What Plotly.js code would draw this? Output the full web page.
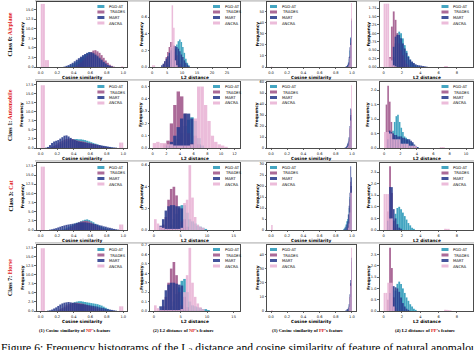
<!DOCTYPE html>
<html><head><meta charset="utf-8">
<script src="https://cdn.plot.ly/plotly-3.0.1.min.js"></script>
<style>html,body{margin:0;padding:0;background:#fff}#chart{width:474px;height:350px}</style>
</head><body><div id="chart"></div>
<script>
// ---------- labels ----------
const seriesNames = ["PGD-AT", "TRADES", "MART", "ANCRA"];
const seriesColors = ["#2b9ab9", "#a0568a", "#2a3c8e", "#e9b3d5"];
const classPrefix = ["Class 0: ", "Class 1: ", "Class 3: ", "Class 7: "];
const classNames = ["Airplane", "Automobile", "Cat", "Horse"];
const xTitles = ["Cosine similarity", "L2 distance", "Cosine similarity", "L2 distance"];
const captionPre = ["(1) Cosine similarity of ", "(2) L2 distance of ", "(3) Cosine similarity of ", "(4) L2 distance of "];
const captionKey = ["NP", "NP", "PP", "PP"];
const figureCaption = "Figure 6: Frequency histograms of the L<sub>2</sub> distance and cosine similarity of feature of natural anomalous";

// ---------- bin grids ----------
const np_cos_bins = [0, 0.025];     // start, width
const np_l2_bins = [0, 0.5];
const pp_cos_bin_left = [0.00, 0.01, 0.89, 0.90, 0.91, 0.92, 0.93, 0.94, 0.95, 0.96, 0.97, 0.98, 0.99];
const pp_cos_width = 0.01;
const pp_l2_bins = [0, 0.2];

// ---------- (1) cosine similarity of NP's feature ----------
const airplane_np_cos_pgd = [0,0,0,0,0,0,0,0,0,0,0,0,0,0.2,0.4,0.7,1.0,1.4,1.8,2.3,2.7,3.1,3.5,3.8,3.9,3.8,3.5,3.1,2.6,2.1,1.5,1.0,0.6,0.3,0.1];
const airplane_np_cos_trades = [0,0,0,0,0,0,0,0,0,0,0,0,0,0,0,0,0.2,0.4,0.8,1.2,1.7,2.3,2.9,3.4,3.9,4.3,4.4,4.1,3.7,3.1,2.4,1.7,1.1,0.6,0.3,0.1];
const airplane_np_cos_mart = [0,0,0,0,0,0,0,0,0,0,0,0.1,0.3,0.5,0.8,1.1,1.5,1.9,2.3,2.7,3.1,3.4,3.7,3.9,3.8,3.6,3.2,2.8,2.3,1.8,1.3,0.9,0.5,0.3,0.1];
const airplane_np_cos_ancra = [16.5,16.5,1.8,1.8,0,0,0,0,0,0,0,0,0,0,0,0,0,0,0,0,0,0,0,0,0,0,0,0,0,0,0,0,0,0,0,0,0,0,0,0.2];

const automobile_np_cos_pgd = [0,0,0,0,0,0,0.2,0.4,0.7,1.0,1.3,1.6,1.9,2.1,2.3,2.4,2.5,2.5,2.4,2.4,2.3,2.2,2.0,1.8,1.6,1.4,1.2,1.0,0.8,0.6,0.5,0.4,0.3,0.2,0.1];
const automobile_np_cos_trades = [0,0,0,0,0,0.3,0.6,0.9,1.3,1.7,2.0,2.3,2.5,2.6,2.6,2.5,2.3,2.1,2.0,1.9,1.8,1.7,1.5,1.4,1.3,1.1,1.0,0.8,0.7,0.5,0.4,0.3,0.2,0.1];
const automobile_np_cos_mart = [0,0,0.1,0.3,0.8,1.4,1.8,2.0,2.2,2.6,3.0,3.4,3.5,3.2,2.8,2.4,2.2,2.0,1.8,1.7,1.6,1.5,1.4,1.3,1.2,1.1,1.0,0.9,0.8,0.7,0.6,0.5,0.4,0.3,0.2,0.15,0.1];
const automobile_np_cos_ancra = [17.4,17.4,0,0,0,0,0,0,0,0,0,0,0,0,0,0,0,0,0,0,0,0,0,0,0,0,0,0,0,0,0,0,0,0,0,0,0,0,1.5,1.5];

const cat_np_cos_pgd = [0,0,0,0,0,0,0,0,0,0,0.1,0.3,0.5,0.8,1.1,1.4,1.7,2.0,2.2,2.4,2.6,2.8,2.9,2.7,2.4,2.1,1.7,1.4,1.1,0.8,0.6,0.4,0.2,0.1];
const cat_np_cos_trades = [0,0,0,0,0,0,0,0,0,0,0,0,0.2,0.4,0.7,1.0,1.4,1.8,2.1,2.3,2.4,2.5,2.5,2.3,2.0,1.7,1.3,1.0,0.7,0.4,0.2,0.1];
const cat_np_cos_mart = [0,0,0,0,0.1,0.2,0.35,0.5,0.7,0.9,1.1,1.25,1.4,1.5,1.6,1.7,1.8,1.9,2.0,2.1,2.1,2.1,2.0,1.9,1.8,1.7,1.6,1.5,1.3,1.2,1.0,0.9,0.7,0.6,0.45,0.3,0.2,0.1];
const cat_np_cos_ancra = [17.3,17.3,0,0,0,0,0,0,0,0,0,0,0,0,0,0,0,0,0,0,0,0,0,0,0,0,0,0,0,0,0,0,0,0,0,0,0,0,1.5,1.5];

const horse_np_cos_pgd = [0,0,0,0,0,0,0,0,0,0.2,0.4,0.7,1.0,1.4,1.8,2.2,2.5,2.6,2.7,2.7,2.6,2.5,2.4,2.3,2.2,2.1,2.0,1.9,1.7,1.5,1.2,0.9,0.6,0.3,0.1];
const horse_np_cos_trades = [0,0,0,0,0,0,0,0,0.2,0.5,0.8,1.2,1.6,1.9,2.1,2.2,2.3,2.3,2.2,2.1,2.0,1.8,1.6,1.4,1.2,1.0,0.8,0.6,0.4,0.3,0.2,0.1];
const horse_np_cos_mart = [0,0,0,0.1,0.2,0.4,0.7,1.0,1.4,1.8,2.1,2.3,2.4,2.5,2.4,2.3,2.2,2.1,2.0,1.9,1.9,1.8,1.7,1.6,1.5,1.4,1.3,1.2,1.0,0.9,0.8,0.6,0.5,0.4,0.3,0.2,0.1];
const horse_np_cos_ancra = [17.4,17.4,0,0,0,0,0,0,0,0,0,0,0,0,0,0,0,0,0,0,0,0,0,0,0,0,0,0,0,0,0,0,0,0,0,0,0,0,1.3,1.3];

// ---------- (2) L2 distance of NP's feature ----------
const airplane_np_l2_pgd = [0,0,0,0,0,0,0,0,0,0,0.03,0.06,0.1,0.14,0.18,0.22,0.27,0.31,0.33,0.3,0.24,0.17,0.1,0.05,0.02];
const airplane_np_l2_trades = [0,0,0,0,0,0,0,0.03,0.07,0.12,0.18,0.24,0.3,0.3,0.26,0.2,0.14,0.08,0.04,0.02];
const airplane_np_l2_mart = [0,0,0,0,0,0,0.02,0.04,0.07,0.1,0.13,0.17,0.2,0.23,0.25,0.25,0.24,0.22,0.19,0.15,0.12,0.08,0.05,0.03,0.01];
const airplane_np_l2_ancra = [0.02,0.02,0,0,0,0,0,0,0,0,0,0,0.24,0.74,0.47,0.08,0.02];

const automobile_np_l2_pgd = [0,0,0,0,0,0,0.03,0.07,0.12,0.18,0.23,0.25,0.22,0.08,0.02];
const automobile_np_l2_trades = [0,0,0,0.03,0.06,0.2,0.35,0.46,0.42,0.28,0.12,0.04,0.01];
const automobile_np_l2_mart = [0,0,0,0,0.02,0.05,0.1,0.17,0.24,0.28,0.28,0.24,0.1,0.03];
const automobile_np_l2_ancra = [0.04,0.05,0.04,0.04,0.03,0.03,0.02,0.02,0.02,0.02,0.02,0.03,0.24,0.5,0.5,0.35,0.22,0.1,0.05,0.03,0.02,0.01];

const cat_np_l2_pgd = [0,0,0,0,0,0,0.05,0.1,0.15,0.2,0.23,0.23,0.16,0.1,0.08,0.06,0.04,0.03,0.02,0.01];
const cat_np_l2_trades = [0,0,0,0.05,0.12,0.28,0.38,0.4,0.32,0.2,0.08,0.02];
const cat_np_l2_mart = [0,0,0.04,0.1,0.18,0.22,0.23,0.23,0.22,0.22,0.2,0.1,0.03];
const cat_np_l2_ancra = [0.1,0.06,0.03,0.02,0.01,0.01,0.01,0.01,0.01,0.01,0.02,0.25,0.28,0.6,0.3,0.12,0.05,0.03,0.02];

const horse_np_l2_pgd = [0,0,0,0,0,0,0.05,0.1,0.18,0.25,0.32,0.34,0.2,0.1,0.06,0.05,0.04,0.03,0.02,0.02,0.01];
const horse_np_l2_trades = [0,0,0,0.05,0.15,0.3,0.45,0.52,0.38,0.2,0.06];
const horse_np_l2_mart = [0,0,0.05,0.12,0.22,0.28,0.3,0.3,0.29,0.28,0.27,0.15,0.04];
const horse_np_l2_ancra = [0.06,0.03,0.01,0.01,0.01,0.01,0.01,0.01,0.01,0.01,0.02,0.2,0.38,0.67,0.3,0.15,0.08,0.04,0.02];

// ---------- (3) cosine similarity of PP's feature ----------
const airplane_pp_cos_pgd = [0,0,0,0,0,0,0.5,1.5,3,7,15,27,38];
const airplane_pp_cos_trades = [0,0,0,0,0,0,0,0.5,1.5,4,10,22,44];
const airplane_pp_cos_mart = [0,0,0,0,0,0.5,1,2,4,9,18,26,42];
const airplane_pp_cos_ancra = [0.5,0.3,0,0,0,0,0,0,0.5,2,8,20,58];

const automobile_pp_cos_pgd = [0,0,0,0,0,0,1,2,5,9,17,28,32];
const automobile_pp_cos_trades = [0,0,0,0,0,0,0,1,3,8,18,30,35];
const automobile_pp_cos_mart = [0,0,0,0,0.5,1,2,4,6,10,20,36,30];
const automobile_pp_cos_ancra = [0.3,0,0,0,0,0,0,1,2,6,18,25,57];

const cat_pp_cos_pgd = [0,0,0.3,0.8,1.5,2.5,4,5,7,10,15,20,15];
const cat_pp_cos_trades = [0,0,0,0,0,0,0,1,3,7,14,22,20];
const cat_pp_cos_mart = [0,0,0,0.3,0.8,1.5,2.5,4,7,11,17,29,24];
const cat_pp_cos_ancra = [2.3,2.3,0,0,0,0,0,0,1,3,8,17,17];

const horse_pp_cos_pgd = [0,0,0,0,0,0,0,1,2,4,10,19,30];
const horse_pp_cos_trades = [0,0,0,0,0,0,0,0,1,3,10,20,35];
const horse_pp_cos_mart = [0,0,0,0,0,0.5,1,1.5,2.5,5,12,22,38];
const horse_pp_cos_ancra = [0.6,0.6,0,0,0,0,0,0,0,3,10,18,45];

// ---------- (4) L2 distance of PP's feature ----------
const airplane_pp_l2_pgd = [0,0,0,0,0,0.3,0.7,1.0,1.05,1.0,0.85,0.65,0.48,0.33,0.22,0.14,0.08,0.05,0.03,0.02];
const airplane_pp_l2_trades = [0,0,0,0.3,1.2,1.65,1.4,1.0,0.7,0.5,0.35,0.2,0.1,0.05];
const airplane_pp_l2_mart = [0,0,0,0,0.2,0.6,0.9,0.95,0.95,0.85,0.7,0.55,0.42,0.3,0.22,0.16,0.12,0.08,0.06,0.05,0.04,0.03,0.02,0.01];
const airplane_pp_l2_ancra = [1.88,1.88,1.88,0.25,0.2,0.05,0.02,0,0,0,0,0,0,0,0,0,0,0,0,0,0,0,0,0,0,0,0,0,0,0,0,0,0,0.03,0.03];

const automobile_pp_l2_pgd = [0,0,0,0,0.3,0.6,0.9,1.1,1.15,0.9,0.7,0.55,0.4,0.35,0.3,0.25,0.2,0.15,0.1,0.06,0.03];
const automobile_pp_l2_trades = [0,1.5,2.15,1.6,0.9,0.5,0.35,0.25,0.2,0.15,0.1,0.08,0.05,0.03];
const automobile_pp_l2_mart = [0,0,0.3,0.6,0.55,0.5,0.45,0.45,0.4,0.4,0.4,0.35,0.35,0.3,0.3,0.3,0.25,0.2,0.12,0.06,0.03];
const automobile_pp_l2_ancra = [0.55,0.55,0.55,0.5,0.5,0.3,0.3,0.3,0.3,0.3,0.15,0.15,0.15,0.15,0.15,0.08,0.08,0.08,0.08,0.08,0,0,0,0,0,0,0,0,0,0,0,0,0,0,0.03,0.03,0.03];

const cat_pp_l2_pgd = [0,0,0,0,0,0.4,0.7,0.95,1.0,0.9,0.75,0.6,0.45,0.3,0.2,0.1,0.05];
const cat_pp_l2_trades = [0,0,0.8,2.75,1.6,0.4,0.1];
const cat_pp_l2_mart = [0,0,0.4,1.85,1.85,0.9,0.5,0.25,0.1,0.05];
const cat_pp_l2_ancra = [1.55,1.55,1.55,0.5,0.5,0,0,0,0,0,0,0,0,0,0,0,0,0,0,0,0,0,0,0,0,0,0,0,0,0,0,0,0,0.05,0.05,0.05];

const horse_pp_l2_pgd = [0,0,0,0,0,0.6,0.9,1.2,1.3,1.2,1.0,0.8,0.6,0.45,0.3,0.2,0.1,0.05];
const horse_pp_l2_trades = [0,0,0.5,2.8,1.9,0.6,0.15];
const horse_pp_l2_mart = [0,0,0,0.8,1.1,1.1,1.05,1.0,0.85,0.6,0.35,0.2,0.1,0.05];
const horse_pp_l2_ancra = [0.8,0.8,1.25,1.25,1.25,0.2,0,0,0,0,0,0,0,0,0,0,0,0,0,0,0,0,0,0,0,0,0,0,0,0,0,0,0,0.05,0.05,0.04,0.03];

// ---------- assemble panels ----------
const panelData = [
  [[airplane_np_cos_pgd, airplane_np_cos_trades, airplane_np_cos_mart, airplane_np_cos_ancra],
   [airplane_np_l2_pgd, airplane_np_l2_trades, airplane_np_l2_mart, airplane_np_l2_ancra],
   [airplane_pp_cos_pgd, airplane_pp_cos_trades, airplane_pp_cos_mart, airplane_pp_cos_ancra],
   [airplane_pp_l2_pgd, airplane_pp_l2_trades, airplane_pp_l2_mart, airplane_pp_l2_ancra]],
  [[automobile_np_cos_pgd, automobile_np_cos_trades, automobile_np_cos_mart, automobile_np_cos_ancra],
   [automobile_np_l2_pgd, automobile_np_l2_trades, automobile_np_l2_mart, automobile_np_l2_ancra],
   [automobile_pp_cos_pgd, automobile_pp_cos_trades, automobile_pp_cos_mart, automobile_pp_cos_ancra],
   [automobile_pp_l2_pgd, automobile_pp_l2_trades, automobile_pp_l2_mart, automobile_pp_l2_ancra]],
  [[cat_np_cos_pgd, cat_np_cos_trades, cat_np_cos_mart, cat_np_cos_ancra],
   [cat_np_l2_pgd, cat_np_l2_trades, cat_np_l2_mart, cat_np_l2_ancra],
   [cat_pp_cos_pgd, cat_pp_cos_trades, cat_pp_cos_mart, cat_pp_cos_ancra],
   [cat_pp_l2_pgd, cat_pp_l2_trades, cat_pp_l2_mart, cat_pp_l2_ancra]],
  [[horse_np_cos_pgd, horse_np_cos_trades, horse_np_cos_mart, horse_np_cos_ancra],
   [horse_np_l2_pgd, horse_np_l2_trades, horse_np_l2_mart, horse_np_l2_ancra],
   [horse_pp_cos_pgd, horse_pp_cos_trades, horse_pp_cos_mart, horse_pp_cos_ancra],
   [horse_pp_l2_pgd, horse_pp_l2_trades, horse_pp_l2_mart, horse_pp_l2_ancra]]
];

// axis settings per [row][col]
const xRanges = [
  [[-0.05,1.05],[-0.7,29.3],[-0.05,1.05],[-0.45,9.8]],
  [[-0.05,1.05],[-0.4,12.8],[-0.05,1.05],[-0.55,10.9]],
  [[-0.05,1.05],[-0.75,16.2],[-0.05,1.05],[-0.45,9.8]],
  [[-0.05,1.05],[-0.75,16.2],[-0.05,1.05],[-0.45,9.8]]
];
const xDticks = [[0.2,5,0.2,2],[0.2,2,0.2,2],[0.2,5,0.2,2],[0.2,5,0.2,2]];
const yRanges = [
  [[0,17.0],[0,0.78],[0,59],[0,1.93]],
  [[0,18.3],[0,0.537],[0,60],[0,2.28]],
  [[0,18.3],[0,0.62],[0,30.5],[0,2.89]],
  [[0,18.3],[0,0.70],[0,47],[0,2.92]]
];
const yDticks = [[2.5,0.2,10,0.25],[2.5,0.1,10,0.5],[2.5,0.2,5,0.5],[2.5,0.1,10,0.5]];
const yFormats = [['.1f','.1f','d','.2f'],['.1f','.1f','d','.1f'],['.1f','.1f','d','.1f'],['.1f','.1f','d','.1f']];
const xFormats = ['.1f','d','.1f','d'];

const W = 474, H = 350;
const colPx = [[36.6,127.4],[150,240],[267,356],[379.5,473.5]];
const rowPx = [[2,67],[82,148],[163,230],[245,311]];
const yTitleX = [22, 141, 257, 368];
const px = v => v / W, py = v => 1 - v / H;

const traces = [], annotations = [], shapes = [];
const layout = {
  width: W, height: H, margin: {l:0, r:0, t:0, b:0},
  paper_bgcolor: '#fff', plot_bgcolor: '#fff', barmode: 'overlay', showlegend: false,
  font: {family: 'DejaVu Sans, sans-serif', color: '#000'}
};

for (let r = 0; r < 4; r++) {
  for (let c = 0; c < 4; c++) {
    const k = r * 4 + c + 1;
    const sfx = k === 1 ? '' : String(k);
    panelData[r][c].forEach((vals, s) => {
      const xs = [], ys = [];
      let width;
      vals.forEach((v, i) => {
        if (v <= 0) return;
        let left;
        if (c === 0) { left = np_cos_bins[0] + np_cos_bins[1] * i; width = np_cos_bins[1]; }
        else if (c === 1) { left = np_l2_bins[0] + np_l2_bins[1] * i; width = np_l2_bins[1]; }
        else if (c === 2) { left = pp_cos_bin_left[i]; width = pp_cos_width; }
        else { left = pp_l2_bins[0] + pp_l2_bins[1] * i; width = pp_l2_bins[1]; }
        xs.push(left + width / 2); ys.push(v);
      });
      traces.push({
        type: 'bar', x: xs, y: ys, width: width, xaxis: 'x' + sfx, yaxis: 'y' + sfx,
        name: seriesNames[s], marker: {color: seriesColors[s], line: {width: 0}},
        opacity: 0.88, hoverinfo: 'skip', showlegend: false
      });
    });
    const common = {
      showline: true, mirror: true, linecolor: '#000', linewidth: 0.7,
      ticks: 'outside', ticklen: 1.5, tickwidth: 0.6, tickcolor: '#000',
      tickfont: {size: 3.6, color: '#111', family: 'DejaVu Sans'},
      showgrid: false, zeroline: false, fixedrange: true, tickangle: 0, tick0: 0
    };
    layout['xaxis' + sfx] = Object.assign({}, common, {
      domain: [px(colPx[c][0]), px(colPx[c][1])], range: xRanges[r][c], anchor: 'y' + sfx,
      dtick: xDticks[r][c], tickformat: xFormats[c]
    });
    layout['yaxis' + sfx] = Object.assign({}, common, {
      domain: [py(rowPx[r][1]), py(rowPx[r][0])], range: yRanges[r][c], anchor: 'x' + sfx,
      dtick: yDticks[r][c], tickformat: yFormats[r][c]
    });
    // axis titles
    annotations.push({
      xref: 'paper', yref: 'paper', x: px((colPx[c][0] + colPx[c][1]) / 2), y: py(rowPx[r][1] + 10.2),
      text: '<b>' + xTitles[c] + '</b>', showarrow: false, xanchor: 'center', yanchor: 'middle',
      font: {size: 4.3, family: 'DejaVu Sans', color: '#000'}
    });
    annotations.push({
      xref: 'paper', yref: 'paper', x: px(yTitleX[c]), y: py((rowPx[r][0] + rowPx[r][1]) / 2),
      text: '<b>Frequency</b>', showarrow: false, textangle: -90, xanchor: 'center', yanchor: 'middle',
      font: {size: 4.2, family: 'DejaVu Sans', color: '#000'}
    });
    // legend
    const swX = c === 2 ? colPx[c][0] + 3 : colPx[c][1] - (c === 0 ? 30 : c === 1 ? 27 : 32);
    seriesNames.forEach((nm, s) => {
      const yc = rowPx[r][0] + 4.5 + 5.5 * s;
      shapes.push({type: 'rect', xref: 'paper', yref: 'paper', x0: px(swX), x1: px(swX + 7),
        y0: py(yc + 1.5), y1: py(yc - 1.5), fillcolor: seriesColors[s], opacity: 0.88, line: {width: 0}});
      annotations.push({xref: 'paper', yref: 'paper', x: px(swX + 9.5), y: py(yc), text: nm,
        showarrow: false, xanchor: 'left', yanchor: 'middle',
        font: {size: 3.8, family: 'DejaVu Sans', color: '#000'}});
    });
  }
  // row label
  annotations.push({
    xref: 'paper', yref: 'paper', x: px(10), y: py((rowPx[r][0] + rowPx[r][1]) / 2),
    text: '<b>' + classPrefix[r] + '<span style="color:#e02020">' + classNames[r] + '</span></b>',
    showarrow: false, textangle: -90, xanchor: 'center', yanchor: 'middle',
    font: {size: 6, family: 'Liberation Serif', color: '#000'}
  });
  // gray band above row
  const bt = r === 0 ? 0 : rowPx[r][0] - 3;
  shapes.push({type: 'rect', xref: 'paper', yref: 'paper', x0: px(35), x1: 1, y0: py(bt + 1.8), y1: py(bt),
    fillcolor: '#cccccc', line: {width: 0}, layer: 'below'});
}

// bottom captions
const capX = [75, 183, 307, 425];
for (let c = 0; c < 4; c++) {
  annotations.push({
    xref: 'paper', yref: 'paper', x: px(capX[c]), y: py(330.5),
    text: '<b>' + captionPre[c] + '<span style="color:#e02020">' + captionKey[c] + '</span>\'s feature</b>',
    showarrow: false, xanchor: 'center', yanchor: 'middle',
    font: {size: 4.7, family: 'Liberation Serif', color: '#000'}
  });
}
annotations.push({
  xref: 'paper', yref: 'paper', x: px(-1), y: py(348.5), text: figureCaption,
  showarrow: false, xanchor: 'left', yanchor: 'middle',
  font: {size: 11.6, family: 'Liberation Serif', color: '#000'}
});

layout.annotations = annotations;
layout.shapes = shapes;
Plotly.newPlot('chart', traces, layout, {displayModeBar: false, staticPlot: true});
</script>
</body></html>
